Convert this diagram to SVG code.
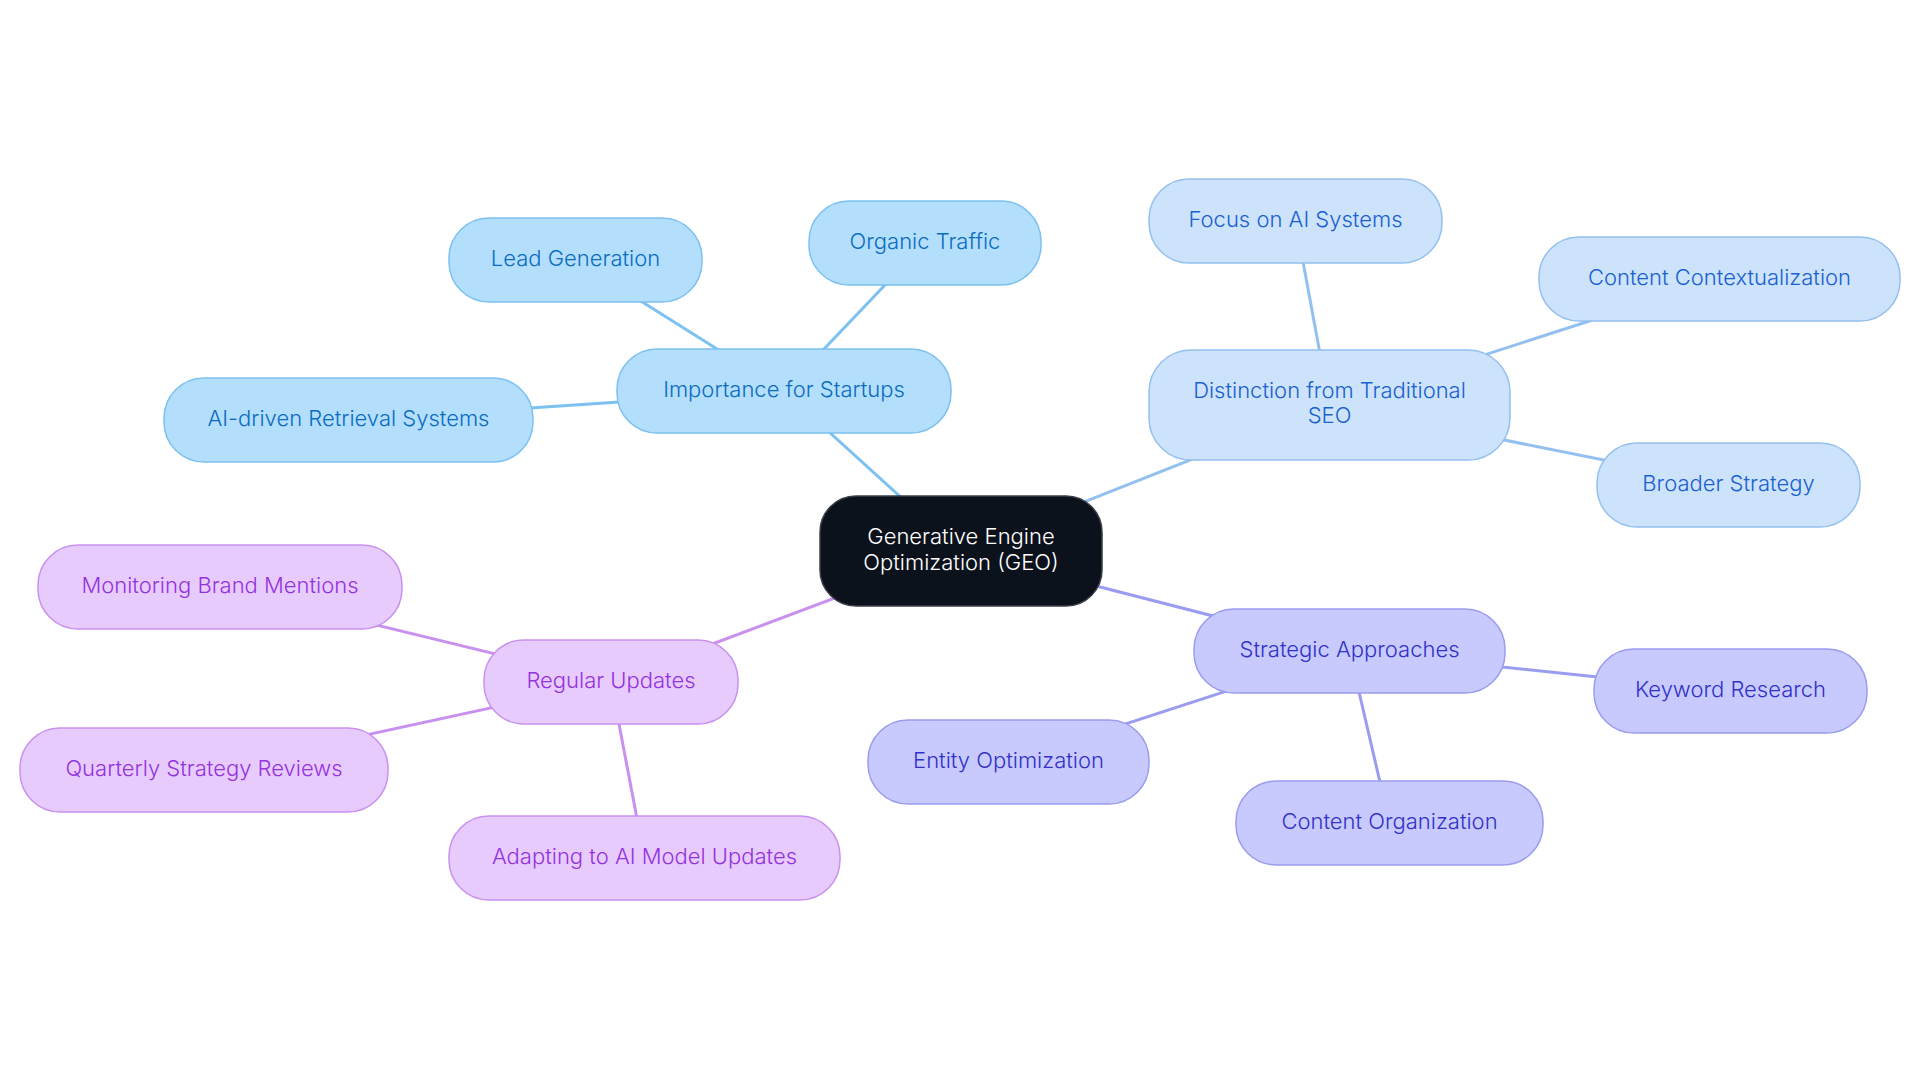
<svg xmlns="http://www.w3.org/2000/svg" width="1920" height="1083" viewBox="0 0 1920 1083">
<style>
text{font-family:Inter,"Noto Sans","Liberation Sans",sans-serif;font-size:22px;font-weight:300;text-anchor:middle}
.c line{stroke-width:3;fill:none}
.b1 rect{fill:#b3dffc;stroke:#7cc1f0;stroke-width:1.5}
.b1 text{fill:#0b6cc0}
.b2 rect{fill:#cde3fb;stroke:#94c0f0;stroke-width:1.5}
.b2 text{fill:#1a60d0}
.b3 rect{fill:#c8cafd;stroke:#9a9cf0;stroke-width:1.5}
.b3 text{fill:#3131c8}
.b4 rect{fill:#e8cbfd;stroke:#c991ef;stroke-width:1.5}
.b4 text{fill:#9333dd}
.l1{stroke:#7cc1f0}.l2{stroke:#94c0f0}.l3{stroke:#9a9cf0}.l4{stroke:#c991ef}
</style>
<rect width="1920" height="1083" fill="#ffffff"/>
<g id="connectors" class="c">
<line class="l1" x1="960" y1="551" x2="784" y2="391"/>
<line class="l1" x1="784" y1="391" x2="575.5" y2="260"/>
<line class="l1" x1="784" y1="391" x2="925" y2="243"/>
<line class="l1" x1="784" y1="391" x2="348.5" y2="420"/>
<line class="l2" x1="960" y1="551" x2="1329.5" y2="405"/>
<line class="l2" x1="1329.5" y1="405" x2="1295.5" y2="221"/>
<line class="l2" x1="1329.5" y1="405" x2="1719.5" y2="279"/>
<line class="l2" x1="1329.5" y1="405" x2="1728.5" y2="485"/>
<line class="l3" x1="960" y1="551" x2="1349.5" y2="651"/>
<line class="l3" x1="1349.5" y1="651" x2="1730.5" y2="691"/>
<line class="l3" x1="1349.5" y1="651" x2="1008.5" y2="762"/>
<line class="l3" x1="1349.5" y1="651" x2="1389.5" y2="823"/>
<line class="l4" x1="960" y1="551" x2="611" y2="682"/>
<line class="l4" x1="611" y1="682" x2="220" y2="587"/>
<line class="l4" x1="611" y1="682" x2="204" y2="770"/>
<line class="l4" x1="611" y1="682" x2="644.5" y2="858"/>
</g>
<g id="center">
<rect x="820" y="496" width="282" height="110" rx="36" fill="#0c121c" stroke="#3a3f47" stroke-width="1.5"/>
<text x="961" y="544" fill="#ffffff">Generative Engine</text>
<text x="961" y="570" fill="#ffffff">Optimization (GEO)</text>
</g>
<g id="importance" class="b1"><rect x="617" y="349" width="334" height="84" rx="40"/><text x="784" y="397">Importance for Startups</text></g>
<g id="lead" class="b1"><rect x="449" y="218" width="253" height="84" rx="40"/><text x="575.5" y="266">Lead Generation</text></g>
<g id="organic" class="b1"><rect x="809" y="201" width="232" height="84" rx="40"/><text x="925" y="249">Organic Traffic</text></g>
<g id="aidriven" class="b1"><rect x="164" y="378" width="369" height="84" rx="40"/><text x="348.5" y="426">AI-driven Retrieval Systems</text></g>
<g id="distinction" class="b2"><rect x="1149" y="350" width="361" height="110" rx="42"/><text x="1329.5" y="398">Distinction from Traditional</text><text x="1329.5" y="423">SEO</text></g>
<g id="focus" class="b2"><rect x="1149" y="179" width="293" height="84" rx="40"/><text x="1295.5" y="227">Focus on AI Systems</text></g>
<g id="contextual" class="b2"><rect x="1539" y="237" width="361" height="84" rx="40"/><text x="1719.5" y="285">Content Contextualization</text></g>
<g id="broader" class="b2"><rect x="1597" y="443" width="263" height="84" rx="40"/><text x="1728.5" y="491">Broader Strategy</text></g>
<g id="strategic" class="b3"><rect x="1194" y="609" width="311" height="84" rx="40"/><text x="1349.5" y="657">Strategic Approaches</text></g>
<g id="keyword" class="b3"><rect x="1594" y="649" width="273" height="84" rx="40"/><text x="1730.5" y="697">Keyword Research</text></g>
<g id="entity" class="b3"><rect x="868" y="720" width="281" height="84" rx="40"/><text x="1008.5" y="768">Entity Optimization</text></g>
<g id="organization" class="b3"><rect x="1236" y="781" width="307" height="84" rx="40"/><text x="1389.5" y="829">Content Organization</text></g>
<g id="regular" class="b4"><rect x="484" y="640" width="254" height="84" rx="40"/><text x="611" y="688">Regular Updates</text></g>
<g id="monitoring" class="b4"><rect x="38" y="545" width="364" height="84" rx="40"/><text x="220" y="593">Monitoring Brand Mentions</text></g>
<g id="quarterly" class="b4"><rect x="20" y="728" width="368" height="84" rx="40"/><text x="204" y="776">Quarterly Strategy Reviews</text></g>
<g id="adapting" class="b4"><rect x="449" y="816" width="391" height="84" rx="40"/><text x="644.5" y="864">Adapting to AI Model Updates</text></g>
</svg>
